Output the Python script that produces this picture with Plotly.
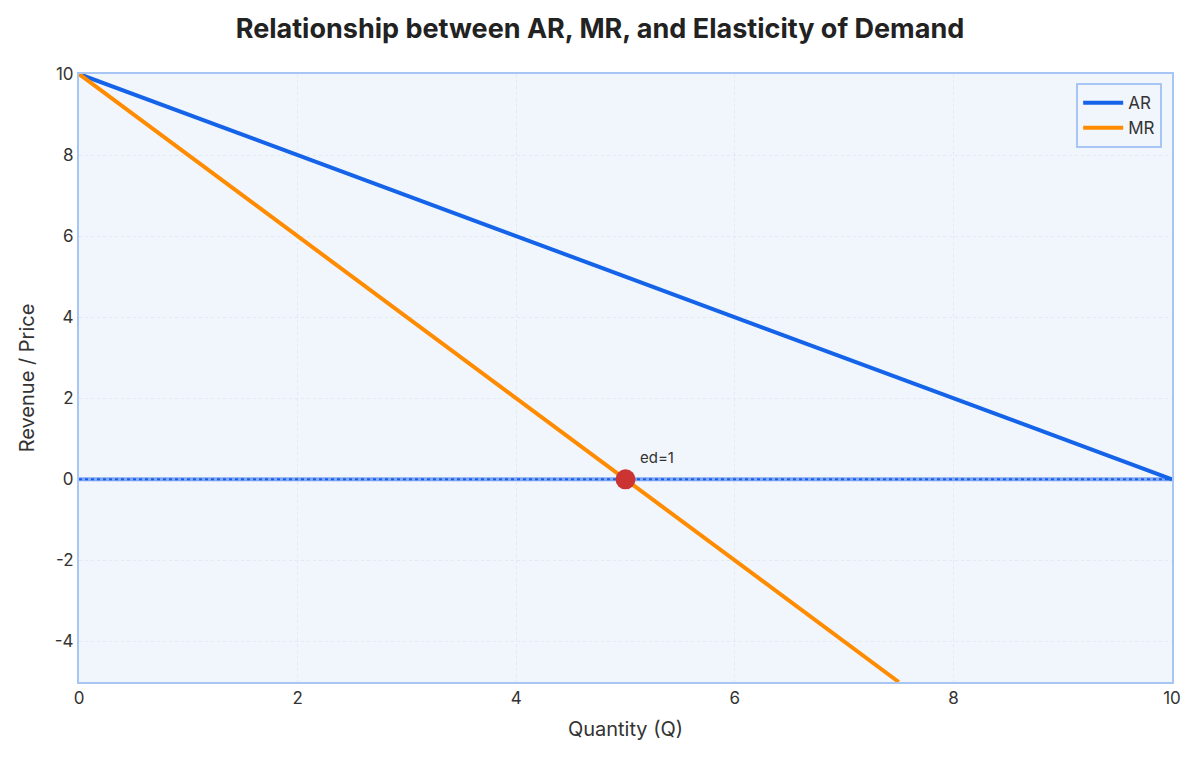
import plotly.graph_objects as go

q = [0, 2, 4, 6, 8, 10]
ar = [10, 8, 6, 4, 2, 0]
q_mr = [0, 2, 4, 5, 6, 7.5]
mr = [10, 6, 2, 0, -2, -5]
unit_q = [5]
unit_val = [0]
zero_x = [0, 10]
zero_y = [0, 0]
x_ticks = [0, 2, 4, 6, 8, 10]
y_ticks = [-4, -2, 0, 2, 4, 6, 8, 10]
y_tick_labels = ["-4", "-2", "0", "2", "4", "6", "8", "10"]

font = "Inter, Open Sans, sans-serif"

fig = go.Figure()
fig.add_trace(go.Scatter(x=zero_x, y=zero_y, mode="lines",
                         line=dict(color="rgba(90,140,240,0.75)", width=4),
                         showlegend=False, hoverinfo="skip"))
fig.add_trace(go.Scatter(x=zero_x, y=zero_y, mode="lines",
                         line=dict(color="#1a5fe0", width=2, dash="dot"),
                         showlegend=False, hoverinfo="skip"))
fig.add_trace(go.Scatter(x=q, y=ar, mode="lines", name="AR",
                         line=dict(color="#1463e8", width=4)))
fig.add_trace(go.Scatter(x=q_mr, y=mr, mode="lines", name="MR",
                         line=dict(color="#ff8c00", width=4)))
fig.add_trace(go.Scatter(x=unit_q, y=unit_val, mode="markers", showlegend=False,
                         marker=dict(color="#cc3333", size=20)))
fig.add_annotation(x=unit_q[0], y=unit_val[0], text="ed=1", showarrow=False,
                   xanchor="left", yanchor="bottom", xshift=12, yshift=10,
                   font=dict(family=font, size=15, color="#333333"))

fig.update_layout(
    width=1200, height=760,
    margin=dict(l=79, r=28, t=74, b=78),
    paper_bgcolor="white",
    plot_bgcolor="#f1f6fd",
    font=dict(family=font, size=16, color="#333333"),
    title=dict(text="<b>Relationship between AR, MR, and Elasticity of Demand</b>",
               x=0.5, xanchor="center", y=0.962, yanchor="middle",
               font=dict(family=font, size=27, color="#222222")),
    legend=dict(x=0.991, y=0.985, xanchor="right", yanchor="top",
                bordercolor="#a8c6f5", borderwidth=2, bgcolor="#f1f6fd",
                tracegroupgap=4, itemwidth=40,
                font=dict(family=font, size=17, color="#333333")),
    showlegend=True,
)
fig.update_xaxes(range=[0, 10], tickvals=x_ticks, showgrid=True, gridcolor="#e2e9f3",
                 griddash="dot", zeroline=False, showline=True, linecolor="#a8c6f5",
                 linewidth=2, mirror=True, ticks="", ticklen=0,
                 title=dict(text="Quantity (Q)", font=dict(size=20)),
                 tickfont=dict(size=17))
fig.update_yaxes(range=[-5, 10], tickvals=y_ticks, ticktext=y_tick_labels,
                 showgrid=True, gridcolor="#e2e9f3",
                 griddash="dot", zeroline=False, showline=True, linecolor="#a8c6f5",
                 linewidth=2, mirror=True, ticks="",
                 title=dict(text="Revenue / Price", font=dict(size=20)),
                 tickfont=dict(size=17))

fig.write_html("out.html")
